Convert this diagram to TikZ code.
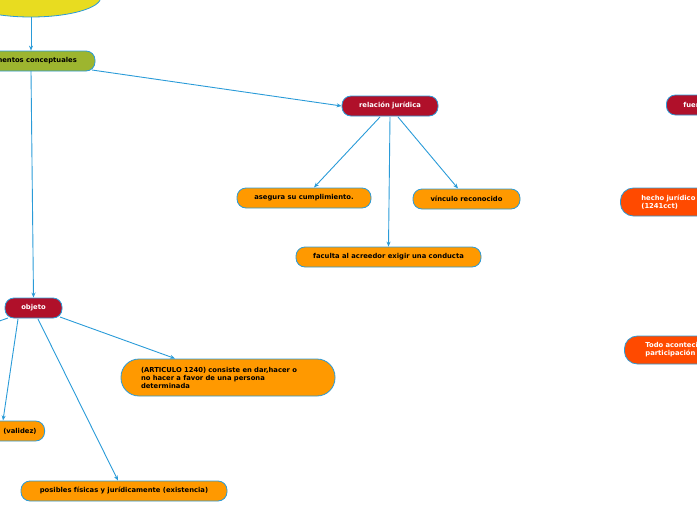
\documentclass[tikz,border=0pt]{standalone}
\usepackage{fontspec}
\setmainfont{DejaVu Sans}
\usetikzlibrary{arrows.meta,shapes.geometric}
\definecolor{edge}{HTML}{2A9BD8}
\definecolor{dred}{HTML}{B0102A}
\definecolor{orng}{HTML}{FF9900}
\definecolor{ored}{HTML}{FF4A00}
\definecolor{grn}{HTML}{9DB52F}
\definecolor{ylw}{HTML}{E8DC20}
\begin{document}
\begin{tikzpicture}[x=1pt,y=-1pt,
 box/.style={draw=edge,line width=0.8pt,rounded corners=9pt,inner sep=0pt,font=\fontsize{6.8}{8}\selectfont\bfseries},
 redbox/.style={box,fill=dred,text=white},
 orbox/.style={box,fill=orng,text=black},
 orrbox/.style={box,fill=ored,text=white,rounded corners=13pt},
 conn/.style={draw=edge,line width=0.9pt,-{Stealth[length=5pt,width=4pt]}}]
\useasboundingbox (0,0) rectangle (697,520);
\clip (0,0) rectangle (697,520);
\node[draw=edge,fill=ylw,ellipse,minimum width=140pt,minimum height=40pt,line width=0.8pt] (root) at (31,-3) {};
\node[box,fill=grn,minimum width=140pt,minimum height=20pt] (fund) at (25,61) {fundamentos conceptuales};
\node[redbox,minimum width=96pt,minimum height=20pt] (rel) at (390,106) {relación jurídica};
\node[orbox,minimum width=134pt,minimum height=20pt] (aseg) at (304,198) {asegura su cumplimiento.};
\node[orbox,minimum width=107pt,minimum height=20pt] (vinc) at (466.5,199) {vínculo reconocido};
\node[orbox,minimum width=185pt,minimum height=20pt] (fac) at (388.5,257) {faculta al acreedor exigir una conducta};
\node[redbox,minimum width=70pt,minimum height=20pt,anchor=west,text width=60pt,align=left] (fuen) at (666,105) {\hspace*{12pt}fuentes};
\node[orrbox,minimum width=120pt,minimum height=28pt,anchor=west,text width=100pt,align=left] (hecho) at (620,202) {\hspace*{11pt}hecho jurídico\\\hspace*{11pt}(1241cct)};
\node[orrbox,minimum width=140pt,minimum height=28pt,anchor=west,text width=120pt,align=left] (todo) at (624,350) {\hspace*{11pt}Todo acontecimiento\\\hspace*{11pt}participación};
\node[redbox,minimum width=57pt,minimum height=20pt] (obj) at (33.5,308) {objeto};
\node[orbox,minimum width=214pt,minimum height=37pt,rounded corners=18pt,text width=174pt,align=left] (art) at (228,377.5) {(ARTICULO 1240) consiste en dar,hacer o\\no hacer a favor de una persona\\determinada};
\node[orbox,minimum width=120pt,minimum height=20pt,anchor=east,text width=110pt,align=right] (val) at (45,431) {(validez)\hspace*{3pt}};
\node[orbox,minimum width=206pt,minimum height=20pt] (pos) at (124,491) {posibles físicas y jurídicamente (existencia)};
\coordinate (offl) at (-15,326);
\coordinate (artin) at (175,358.5);
\coordinate (asin) at (314,187.5);
\coordinate (viin) at (458,188.5);
\coordinate (vain) at (3,420.5);
\coordinate (poin) at (118,480.5);
\draw[conn] (root.south) -- (fund.north -| root.south) ;
\draw[conn] (92,70) -- (rel.west);
\draw[conn] (31,71) -- (obj.north);
\draw[conn] (380,117) -- (asin);
\draw[conn] (390,117) -- (fac.north);
\draw[conn] (398,117) -- (viin);
\draw[conn] (18,319) -- (vain);
\draw[conn] (38,319) -- (poin);
\draw[conn] (60,317) -- (artin);
\draw[conn] (8,318) -- (offl);
\end{tikzpicture}
\end{document}
